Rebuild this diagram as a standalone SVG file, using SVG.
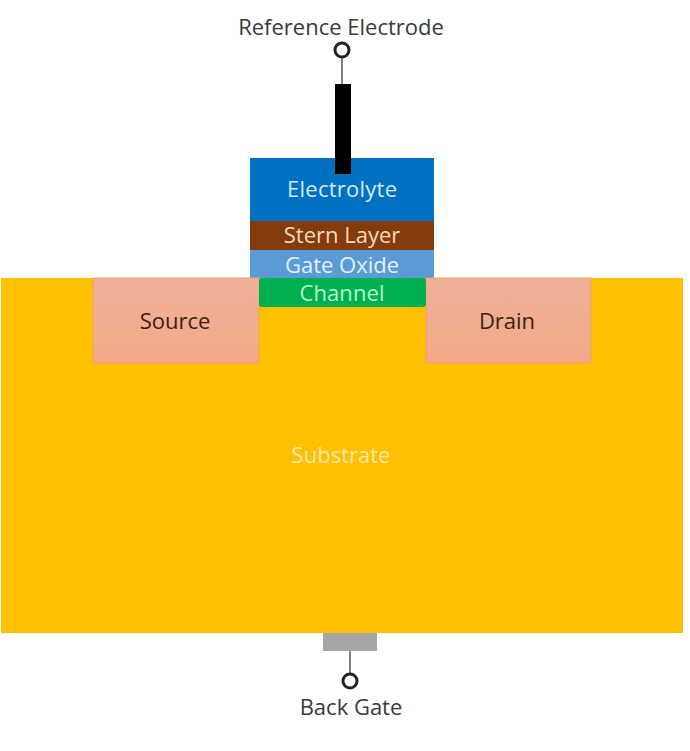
<svg xmlns="http://www.w3.org/2000/svg" width="690" height="751" viewBox="0 0 690 751">
<defs><linearGradient id="pink" x1="0" y1="0" x2="0" y2="1"><stop offset="0" stop-color="#eeb199"/><stop offset="1" stop-color="#f4a988"/></linearGradient></defs>
<style>
text{font-family:"Open Sans","Noto Sans","Liberation Sans",sans-serif;font-size:22px;text-anchor:middle}
.dark{fill:#3a3a3a}
.wire{stroke:#555;stroke-width:1.5;fill:none}
.term{stroke:#222;stroke-width:3;fill:#fff}
</style>
<rect width="690" height="751" fill="#fff"/>
<g id="substrate"><rect x="1" y="278" width="682" height="355" fill="#ffc000"/><text x="341" y="463" fill="#ffe9a8">Substrate</text></g>
<g id="electrolyte"><rect x="250" y="158" width="184" height="63" fill="#0070c0"/><text x="342" y="197" fill="#d5e8f7" textLength="110">Electrolyte</text></g>
<g id="stern-layer"><rect x="250" y="221" width="184" height="29" fill="#843c0c"/><text x="342" y="243" fill="#fbd9bd">Stern Layer</text></g>
<g id="gate-oxide"><rect x="250" y="250" width="184" height="28" fill="#5b9bd5"/><text x="342" y="273" fill="#e3f0fb">Gate Oxide</text></g>
<g id="source"><rect x="93" y="278" width="166" height="85" fill="url(#pink)" stroke="#f0a35e"/><text x="175" y="329" fill="#3d1f14">Source</text></g>
<g id="drain"><rect x="426" y="278" width="165" height="85" fill="url(#pink)" stroke="#f0a35e"/><text x="507" y="329" fill="#3d1f14">Drain</text></g>
<g id="channel"><rect x="259" y="278" width="167" height="29" rx="3" fill="#00b050"/><text x="342" y="301" fill="#b5f5cf" textLength="85">Channel</text></g>
<g id="back-gate"><rect x="323" y="633" width="54" height="18" fill="#a5a5a5"/><text x="351" y="715" class="dark">Back Gate</text></g>
<g id="reference-electrode"><rect x="335" y="84" width="16" height="90" fill="#000"/><text x="341" y="35" class="dark">Reference Electrode</text></g>
<g id="connectors">
<line class="wire" x1="342" y1="58" x2="342" y2="84"/>
<circle class="term" cx="342" cy="50" r="7"/>
<line class="wire" x1="350" y1="651" x2="350" y2="673"/>
<circle class="term" cx="350" cy="681" r="7"/>
</g>
</svg>
